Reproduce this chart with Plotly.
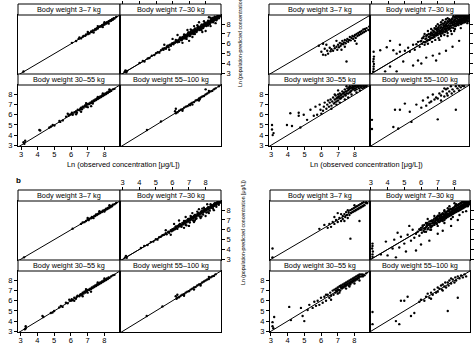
import plotly.graph_objects as go

W, H = 474, 347
FONT = "Liberation Sans, Arial, Helvetica, sans-serif"

strip_labels = ["Body weight 3–7 kg", "Body weight 7–30 kg",
                "Body weight 30–55 kg", "Body weight 55–100 kg"]
tick_values = [3, 4, 5, 6, 7, 8]
identity_line = [2.0, 10.0]
x_title = "Ln (observed concentration [μg/L])"
y_title = "Ln (population-predicted concentration [μg/L])"

# ---------------- panel a, left (tight around identity) ----------------
a_ind_3_7 = [(3.15,3.18),(6.05,6.1),(6.3,6.28),(6.45,6.5),(6.6,6.55),(6.7,6.72),(6.75,6.8),(6.85,6.82),
    (6.9,6.95),(7.0,6.98),(7.05,7.1),(7.1,7.05),(7.2,7.25),(7.25,7.2),(7.3,7.35),(7.4,7.38),(7.45,7.5),
    (7.5,7.45),(7.55,7.6),(7.6,7.55),(7.65,7.7),(7.7,7.72),(7.75,7.8),(7.8,7.75),(7.85,7.9),(7.9,7.88),
    (7.95,8.0),(8.0,7.95),(8.05,8.1),(8.1,8.05),(8.15,8.2),(8.2,8.15),(8.25,8.3),(8.3,8.28),(8.35,8.4),
    (8.4,8.35),(8.45,8.5),(8.5,8.45),(8.55,8.6),(8.6,8.58),(8.7,8.72),(7.35,7.15),(7.6,7.8),(8.0,8.2),
    (8.25,8.05),(6.5,6.65),(7.0,7.2),(7.9,7.7)]
a_ind_7_30 = [(3.1,3.15),(3.15,3.3),(3.2,3.1),(3.25,3.25),(4.0,4.05),(4.2,4.25),(4.3,4.2),(4.5,4.5),
    (4.6,4.55),(4.75,4.8),(4.9,4.85),(5.0,5.05),(5.1,5.15),(5.2,5.1),(5.3,5.35),(5.4,5.5),(5.45,5.4),
    (5.5,5.55),(5.6,5.5),(5.65,5.7),(5.7,5.8),(5.75,5.65),(5.8,5.85),(5.85,5.9),(5.9,5.8),(5.95,6.0),
    (6.0,6.5),(6.0,6.05),(6.05,5.95),(6.1,6.15),(6.15,6.1),(6.2,6.3),(6.25,6.2),(6.3,6.35),(6.35,6.3),
    (6.4,6.45),(6.4,6.2),(6.45,6.55),(6.5,6.4),(6.5,6.6),(6.55,6.5),(6.6,6.7),(6.6,6.5),(6.65,6.6),
    (6.7,6.8),(6.7,6.55),(6.75,6.7),(6.8,6.9),(6.8,6.65),(6.85,6.8),(6.9,7.0),(6.9,6.75),(6.95,6.9),
    (7.0,7.15),(7.0,6.3),(7.0,6.9),(7.05,7.0),(7.1,7.2),(7.1,6.95),(7.15,7.1),(7.2,7.35),(7.2,7.1),
    (7.25,7.2),(7.3,7.4),(7.3,7.15),(7.35,7.3),(7.4,7.5),(7.4,7.25),(7.45,7.4),(7.5,7.65),(7.5,7.35),
    (7.55,7.5),(7.6,7.7),(7.6,7.45),(7.65,7.6),(7.7,7.8),(7.7,7.55),(7.75,7.7),(7.8,7.95),(7.8,7.6),
    (7.85,7.8),(7.9,8.0),(7.9,7.75),(7.95,7.9),(8.0,8.1),(8.0,7.3),(8.0,7.85),(8.05,8.0),(8.1,8.2),
    (8.1,7.95),(8.15,8.1),(8.2,8.3),(8.2,8.05),(8.25,8.2),(8.3,8.4),(8.3,8.15),(8.35,8.3),(8.4,8.5),
    (8.4,8.25),(8.45,8.4),(8.5,8.6),(8.5,8.35),(8.55,8.5),(8.6,8.7),(8.6,8.45),(8.65,8.6),(8.7,8.8),
    (8.7,8.55),(8.75,8.7),(8.8,8.85),(8.85,8.75),(6.3,6.9),(6.9,7.4),(7.3,7.8),(7.6,8.2),(8.2,8.7),
    (6.6,6.1),(7.2,6.7),(7.8,7.2),(8.3,7.8),(8.6,8.1),(5.5,5.9),(5.8,5.4),
    (6.2,6.4),(6.3,6.15),(6.45,6.65),(6.55,6.35),(6.7,6.95),(6.8,6.55),(6.95,7.15),(7.05,6.8),
    (7.15,7.35),(7.25,7.0),(7.35,7.55),(7.45,7.2),(7.55,7.75),(7.65,7.4),(7.75,7.95),(7.85,7.6),
    (7.95,8.15),(8.05,7.8),(8.15,8.35),(8.25,8.0),(8.35,8.55),(8.45,8.2),(8.55,8.75),(8.65,8.4),
    (8.75,8.85),(8.8,8.6),(7.1,7.45),(7.5,7.9),(7.9,8.3),(8.3,8.65),(6.85,6.5),(7.35,7.0),(7.75,7.4),
    (8.15,7.85),(8.45,8.65),(8.9,8.85)]
a_ind_30_55 = [(3.15,3.3),(3.2,3.15),(3.25,3.45),(4.1,4.5),(4.15,4.45),(4.7,4.75),(4.8,4.85),(4.9,5.0),
    (5.0,4.95),(5.3,5.4),(5.35,5.3),(5.5,5.45),(5.7,5.8),(5.8,6.1),(5.85,5.9),(5.9,6.0),(6.0,6.05),
    (6.05,6.2),(6.1,6.0),(6.2,6.25),(6.3,6.35),(6.35,6.2),(6.4,6.5),(6.5,6.45),(6.55,6.6),(6.6,6.7),
    (6.65,6.55),(6.7,6.8),(6.75,6.7),(6.8,6.85),(6.85,6.95),(6.9,6.8),(6.95,7.05),(7.0,7.0),(7.0,6.75),
    (7.05,7.1),(7.1,7.05),(7.15,7.2),(7.2,7.15),(7.25,7.3),(7.3,7.25),(7.35,7.4),(7.4,7.35),(7.45,7.5),
    (7.5,7.45),(7.55,7.6),(7.6,7.55),(7.65,7.7),(7.7,7.65),(7.75,7.8),(7.8,7.75),(7.85,7.9),(7.9,7.85),
    (7.95,8.0),(8.0,7.95),(8.05,8.1),(8.1,8.05),(8.15,8.2),(8.2,8.15),(8.25,8.3),(8.3,8.25),(8.35,8.4),
    (8.4,8.35),(8.5,8.5),(8.6,8.55),(6.3,6.05),(6.6,6.3),(7.2,6.85),(7.6,7.75),(7.9,8.1),(8.3,8.5),
    (6.9,7.15),(7.3,7.1)]
a_ind_55_100 = [(4.45,4.5),(5.3,5.35),(6.15,6.35),(6.2,6.15),(6.3,6.25),(6.4,6.4),(6.5,6.5),(6.6,6.55),
    (6.7,6.7),(6.8,6.8),(6.9,6.85),(7.0,7.0),(7.05,6.95),(7.1,7.1),(7.2,7.2),(7.3,7.25),(7.4,7.4),
    (7.5,7.45),(7.6,7.6),(7.65,7.55),(7.7,7.7),(7.8,7.8),(7.9,7.85),(8.0,8.0),(8.0,8.5),(8.1,8.1),
    (8.2,8.2),(8.3,8.3),(8.4,8.35),(8.5,8.5),(8.6,8.6),(6.2,6.6),(6.6,6.4),(7.2,7.0),(7.6,7.4),
    (8.2,8.35),(8.8,8.8)]

# ---------------- panel a, right (population predictions) ----------------
a_pop_3_7 = [(5.85,5.8),(6.0,5.2),(6.1,4.9),(6.2,5.5),(6.25,4.85),(6.35,5.3),(6.4,5.0),(6.5,5.6),
    (6.55,5.25),(6.6,5.45),(6.7,5.3),(6.75,5.8),(6.8,5.55),(6.9,5.7),(6.95,5.4),(7.0,5.9),(7.05,5.65),
    (7.1,6.1),(7.15,5.8),(7.2,6.0),(7.25,6.3),(7.3,5.95),(7.35,6.15),(7.4,6.4),(7.45,6.05),(7.5,6.3),
    (7.5,4.2),(7.55,6.5),(7.6,6.2),(7.65,6.4),(7.7,6.7),(7.75,6.35),(7.8,6.6),(7.85,6.8),(7.9,6.5),
    (7.95,6.75),(8.0,6.9),(8.05,6.6),(8.1,7.0),(8.15,6.8),(8.2,7.1),(8.25,6.9),(8.3,7.2),(8.35,7.0),
    (8.4,7.3),(8.45,7.1),(8.5,7.45),(8.55,7.2),(8.6,7.5),(8.65,7.3),(8.7,7.6),(8.8,7.4),(8.85,7.75),
    (6.3,5.9),(6.9,6.3),(7.4,5.7),(8.0,6.3),(8.1,6.0),(7.2,5.4),(6.1,6.0)]
a_pop_7_30 = [(3.08,3.2),(3.1,3.45),(3.1,3.7),(3.12,3.95),(3.08,4.2),(3.1,4.45),(3.12,4.7),(3.1,5.2),
    (3.5,5.35),(3.9,5.65),(4.3,5.35),(4.5,5.0),(4.7,5.2),(3.8,3.2),(4.1,3.7),(4.5,3.2),(4.9,4.2),
    (5.5,3.8),(5.8,4.3),(6.0,4.0),(6.3,4.6),(6.7,4.8),(6.9,4.3),(7.1,5.0),(7.5,5.3),(7.9,5.7),(8.3,6.3),
    (4.7,5.9),(4.1,6.3),(5.0,5.3),(5.2,5.6),(5.3,5.2),(5.5,5.9),(5.6,5.4),(5.8,6.2),(5.9,5.7),
    (6.0,6.3),(6.05,6.0),(6.1,6.6),(6.15,6.2),(6.2,5.9),(6.25,6.5),(6.3,6.8),(6.35,6.3),(6.4,6.0),
    (6.45,6.7),(6.5,6.4),(6.55,7.0),(6.6,6.6),(6.65,6.2),(6.7,6.9),(6.75,7.2),(6.8,6.7),(6.85,6.4),
    (6.9,7.1),(6.95,7.4),(7.0,6.9),(7.0,7.6),(7.05,6.6),(7.1,7.3),(7.15,7.0),(7.2,7.7),(7.2,6.8),
    (7.25,7.4),(7.3,7.1),(7.35,7.9),(7.4,7.5),(7.4,6.9),(7.45,7.2),(7.5,7.8),(7.5,7.4),(7.55,8.1),
    (7.6,7.6),(7.6,7.1),(7.65,7.9),(7.7,8.3),(7.7,7.5),(7.75,7.8),(7.8,8.1),(7.8,7.3),(7.85,8.5),
    (7.9,7.9),(7.9,8.2),(7.95,7.6),(8.0,8.4),(8.0,8.0),(8.05,8.7),(8.1,7.8),(8.1,8.3),(8.15,8.6),
    (8.2,8.0),(8.2,8.8),(8.25,8.4),(8.3,8.1),(8.3,8.7),(8.35,8.5),(8.4,8.2),(8.4,8.85),(8.45,8.6),
    (8.5,8.3),(8.5,8.8),(8.55,8.6),(8.6,8.4),(8.6,8.85),(8.65,8.7),(8.7,8.5),(8.75,8.8),(8.8,8.6),
    (8.85,8.75),(8.9,8.8),(6.4,7.3),(6.8,7.6),(7.0,8.0),(7.3,8.4),(7.6,8.6),(6.2,7.0),(6.6,7.5),
    (7.1,6.4),(7.6,6.8),(8.0,7.3),(8.4,7.6),(8.8,8.1),(7.45,7.9),(7.75,8.4),(7.95,8.8),(8.15,8.85),
    (8.05,7.5),(8.25,7.9),(8.45,8.1),(8.65,8.2),(8.75,8.4),(8.85,8.3),(7.2,8.2),(6.9,7.8),(7.5,8.5),
    (7.85,7.0),
    (6.3,6.55),(6.35,6.9),(6.4,6.35),(6.45,7.0),(6.5,6.75),(6.55,6.5),(6.6,7.15),(6.6,6.85),
    (6.65,7.05),(6.7,6.6),(6.7,7.35),(6.75,6.95),(6.8,7.25),(6.8,6.9),(6.85,7.5),(6.85,7.05),
    (6.9,6.85),(6.9,7.55),(6.95,7.15),(7.0,7.25),(7.0,7.05),(7.05,7.7),(7.05,7.45),(7.1,7.1),
    (7.1,7.85),(7.15,7.35),(7.15,7.6),(7.2,7.25),(7.2,7.95),(7.25,7.65),(7.25,7.05),(7.3,7.5),
    (7.3,8.05),(7.35,7.25),(7.35,7.7),(7.4,8.1),(7.4,7.75),(7.45,7.55),(7.45,8.25),(7.5,7.95),
    (7.5,7.6),(7.55,7.3),(7.55,7.85),(7.6,8.3),(7.6,7.8),(7.65,7.45),(7.65,8.15),(7.7,7.7),
    (7.7,8.5),(7.75,8.05),(7.75,7.55),(7.8,8.35),(7.8,7.85),(7.85,8.2),(7.85,7.65),(7.9,8.6),
    (7.9,8.05),(7.95,8.35),(7.95,7.85),(8.0,8.75),(8.0,8.2),(8.05,7.8),(8.05,8.5),(8.1,8.05),
    (8.1,8.8),(8.15,8.3),(8.15,7.95),(8.2,8.55),(8.2,8.2),(8.25,8.75),(8.25,8.05),(8.3,8.45),
    (8.3,8.85),(8.35,8.25),(8.35,8.7),(8.4,8.45),(8.4,8.0),(8.45,8.8),(8.45,8.35),(8.5,8.55),
    (8.5,8.1),(8.55,8.85),(8.55,8.4),(8.6,8.65),(8.6,8.2),(8.65,8.85),(8.65,8.45),(8.7,8.7),
    (8.7,8.25),(8.75,8.55),(8.75,8.85),(8.8,8.75),(8.8,8.35),(8.85,8.55),(8.9,8.7),(6.05,6.55),
    (6.15,6.75),(6.25,6.15),(5.95,6.25),(5.7,5.95)]
a_pop_30_55 = [(3.06,5.0),(3.06,4.55),(3.15,4.2),(3.1,4.0),(3.95,5.0),(4.15,6.15),(4.25,4.9),(4.65,6.2),
    (4.65,5.9),(4.75,4.75),(4.95,6.0),(5.15,5.5),(5.35,6.5),(5.55,5.9),(5.65,6.8),(5.75,6.0),(5.95,6.5),
    (5.9,7.0),(6.1,6.4),(6.15,6.8),(6.2,7.2),(6.3,6.6),(6.35,7.0),(6.4,7.4),(6.45,6.8),(6.5,7.2),
    (6.55,7.5),(6.6,6.9),(6.65,7.3),(6.7,7.7),(6.75,7.1),(6.8,7.5),(6.85,7.9),(6.9,7.3),(6.95,7.7),
    (7.0,8.0),(7.0,7.4),(7.05,7.8),(7.1,8.1),(7.15,7.6),(7.2,8.0),(7.25,8.3),(7.3,7.8),(7.35,8.2),
    (7.4,8.5),(7.45,7.9),(7.5,8.3),(7.55,8.6),(7.6,8.1),(7.65,8.5),(7.7,8.8),(7.75,8.3),(7.8,8.7),
    (7.85,8.85),(7.9,8.5),(7.95,8.8),(8.0,8.6),(8.05,8.85),(8.1,8.7),(8.15,8.85),(8.2,8.75),(8.3,8.85),
    (8.4,8.8),(8.5,8.85),(8.6,8.8),(8.7,8.85),(6.6,6.6),(7.1,7.2),(7.6,7.7),(8.1,8.2),(6.9,7.0),
    (7.4,7.5),(7.8,8.0),(8.3,8.4),(6.0,6.1),(7.0,8.4),(7.5,8.8),(6.8,8.0),
    (7.0,7.7),(7.1,7.6),(7.2,7.7),(7.3,8.1),(7.4,8.0),(7.5,8.1),(7.6,8.4),(7.7,8.2),(7.7,8.6),
    (7.8,8.4),(7.9,8.7),(8.0,8.4),(8.0,8.8),(8.1,8.5),(8.2,8.85),(8.25,8.6),(8.35,8.7),(8.45,8.6),
    (8.55,8.7),(8.65,8.8),(6.8,7.2),(6.9,7.6),(7.15,7.9),(7.45,8.3),(7.65,8.7),(7.85,8.6)]
a_pop_55_100 = [(3.0,5.5),(3.0,4.6),(4.3,4.8),(4.6,4.65),(4.4,6.5),(4.7,6.5),(5.0,7.1),(5.3,6.3),
    (5.4,5.3),(5.7,7.0),(6.0,6.7),(6.1,7.4),(6.3,6.9),(6.4,7.7),(6.5,7.2),(6.7,8.0),(6.8,7.5),(6.9,7.7),
    (7.0,5.55),(7.1,8.1),(7.2,7.9),(7.3,8.3),(7.4,7.8),(7.5,8.5),(7.55,8.1),(7.6,8.6),(7.7,8.3),
    (7.8,8.8),(7.9,8.5),(8.0,8.3),(8.1,6.5),(8.1,8.8),(8.2,8.6),(8.3,8.85),(8.4,8.7),(8.5,8.85),
    (8.6,8.8),(7.2,7.4),(7.6,7.9),(6.6,7.3),(7.0,7.6),(7.4,8.6),(7.85,8.1),(8.3,8.4)]

# ---------------- panel b, left (tight around identity) ----------------
b_ind_3_7 = [(3.2,3.2),(6.1,6.12),(6.6,6.6),(6.7,6.75),(6.8,6.78),(6.9,6.9),(7.0,7.05),(7.05,6.98),
    (7.1,7.12),(7.2,7.18),(7.25,7.3),(7.3,7.25),(7.4,7.42),(7.45,7.4),(7.5,7.55),(7.55,7.5),(7.6,7.62),
    (7.65,7.6),(7.7,7.75),(7.75,7.7),(7.8,7.82),(7.85,7.8),(7.9,7.95),(7.95,7.9),(8.0,8.02),(8.05,8.0),
    (8.1,8.15),(8.15,8.1),(8.2,8.22),(8.25,8.2),(8.3,8.35),(8.35,8.3),(8.4,8.42),(8.45,8.4),(8.5,8.55),
    (8.6,8.6),(8.7,8.72),(7.0,7.2),(7.35,7.2),(7.7,7.9),(8.0,7.85),(8.3,8.5)]
b_ind_7_30 = [(3.15,3.2),(3.2,3.35),(3.25,3.15),(4.1,4.15),(4.3,4.35),(4.5,4.45),(4.7,4.75),(4.85,4.8),
    (5.0,5.05),(5.1,5.0),(5.2,5.25),(5.3,5.3),(5.4,5.45),(5.5,5.5),(5.6,5.65),(5.65,5.55),(5.75,5.8),
    (5.8,5.7),(5.9,5.95),(5.95,5.85),(6.0,6.05),(6.05,5.95),(6.1,6.6),(6.1,6.15),(6.15,6.05),(6.2,6.25),
    (6.25,6.15),(6.3,6.4),(6.35,6.3),(6.4,6.5),(6.45,6.35),(6.5,6.55),(6.55,6.45),(6.6,6.7),(6.65,6.55),
    (6.7,6.8),(6.75,6.65),(6.8,6.9),(6.85,6.75),(6.9,7.0),(6.95,6.85),(7.0,7.1),(7.0,6.4),(7.05,6.95),
    (7.1,7.2),(7.15,7.05),(7.2,7.3),(7.25,7.15),(7.3,7.4),(7.35,7.25),(7.4,7.5),(7.45,7.35),(7.5,7.6),
    (7.55,7.45),(7.6,7.7),(7.65,7.55),(7.7,7.8),(7.75,7.65),(7.8,7.9),(7.85,7.75),(7.9,8.0),(7.95,7.85),
    (8.0,8.1),(8.0,7.4),(8.05,7.95),(8.1,8.2),(8.15,8.05),(8.2,8.3),(8.25,8.15),(8.3,8.4),(8.35,8.25),
    (8.4,8.5),(8.45,8.35),(8.5,8.6),(8.55,8.45),(8.6,8.7),(8.65,8.55),(8.7,8.8),(8.75,8.65),(8.8,8.85),
    (8.85,8.75),(6.4,6.95),(6.8,7.3),(7.2,7.7),(7.6,8.1),(8.1,8.6),(6.7,6.2),(7.3,6.8),(7.7,7.2),
    (8.2,7.7),(8.5,8.0),(5.6,5.95),(5.9,5.5),(7.4,7.1),(7.8,8.15),
    (6.2,6.35),(6.3,6.1),(6.45,6.6),(6.55,6.3),(6.7,6.9),(6.8,6.5),(6.95,7.1),(7.05,6.75),(7.15,7.3),
    (7.25,6.95),(7.35,7.5),(7.45,7.15),(7.55,7.7),(7.65,7.35),(7.75,7.9),(7.85,7.55),(7.95,8.1),
    (8.05,7.75),(8.15,8.3),(8.25,7.95),(8.35,8.5),(8.45,8.15),(8.55,8.7),(8.65,8.35),(8.75,8.85),
    (8.8,8.55),(7.1,7.4),(7.5,7.85),(7.9,8.25),(8.3,8.6),(6.85,6.45),(7.35,6.95),(7.75,7.35),
    (8.15,7.8),(8.9,8.8)]
b_ind_30_55 = [(3.3,3.5),(3.3,3.3),(3.25,3.2),(4.3,4.5),(4.35,4.4),(4.8,4.8),(4.9,4.85),(5.0,5.0),
    (5.3,5.35),(5.4,5.5),(5.5,5.4),(5.7,5.8),(5.8,5.75),(5.9,6.1),(6.0,6.0),(6.05,6.15),(6.1,6.05),
    (6.2,6.3),(6.3,6.2),(6.35,6.4),(6.4,6.5),(6.5,6.45),(6.55,6.6),(6.6,6.65),(6.65,6.6),(6.7,6.8),
    (6.75,6.7),(6.8,6.9),(6.85,6.8),(6.9,7.0),(6.95,6.9),(7.0,7.05),(7.0,6.8),(7.05,7.1),(7.1,7.05),
    (7.15,7.2),(7.2,7.15),(7.25,7.3),(7.3,7.25),(7.35,7.4),(7.4,7.35),(7.45,7.5),(7.5,7.45),(7.55,7.6),
    (7.6,7.55),(7.65,7.7),(7.7,7.65),(7.75,7.8),(7.8,7.75),(7.85,7.9),(7.9,7.85),(7.95,8.0),(8.0,7.95),
    (8.05,8.1),(8.1,8.05),(8.15,8.2),(8.2,8.15),(8.25,8.3),(8.3,8.25),(8.4,8.4),(8.5,8.5),(8.6,8.55),
    (6.2,6.0),(6.7,6.45),(7.2,6.9),(7.6,7.8),(8.0,8.2),(6.9,7.15)]
b_ind_55_100 = [(4.45,4.5),(5.4,5.45),(6.2,6.45),(6.25,6.2),(6.3,6.3),(6.4,6.35),(6.5,6.5),(6.6,6.6),
    (6.7,6.65),(6.8,6.8),(6.9,6.9),(7.0,6.95),(7.1,7.1),(7.2,7.2),(7.3,7.3),(7.4,7.35),(7.5,7.5),
    (7.6,7.6),(7.7,7.65),(7.8,7.8),(7.9,7.9),(8.0,8.0),(8.1,8.1),(8.2,8.15),(8.3,8.3),(8.4,8.4),
    (8.5,8.45),(8.6,8.6),(6.3,6.6),(6.7,6.5),(7.3,7.1),(7.7,7.5),(8.2,8.35)]

# ---------------- panel b, right (population predictions) ----------------
b_pop_3_7 = [(3.1,4.1),(3.1,3.2),(5.9,6.1),(6.2,6.5),(6.4,6.2),(6.5,6.6),(6.6,6.3),(6.7,6.8),(6.8,6.6),
    (6.9,7.0),(7.0,7.7),(7.0,6.8),(7.1,7.2),(7.2,6.9),(7.3,7.4),(7.3,7.1),(7.4,7.6),(7.45,7.3),
    (7.5,7.8),(7.55,7.5),(7.6,7.2),(7.65,7.8),(7.7,7.5),(7.75,8.0),(7.76,5.1),(7.8,7.7),(7.85,8.1),
    (7.9,7.8),(7.95,8.2),(8.0,7.9),(8.05,8.3),(8.1,8.0),(8.15,8.4),(8.2,8.1),(8.25,8.5),(8.3,6.9),
    (8.3,8.2),(8.35,8.6),(8.4,8.3),(8.45,8.7),(8.5,8.4),(8.55,8.8),(8.6,8.5),(8.7,8.8),(8.75,8.7),
    (6.8,7.3),(7.2,7.6),(7.6,8.0),(8.0,8.5),(7.4,6.9)]
b_pop_7_30 = [(3.1,3.25),(3.1,3.5),(3.12,3.8),(3.08,4.1),(3.1,4.35),(3.1,4.6),(3.6,3.5),(3.9,4.8),
    (4.0,3.4),(4.3,4.1),(4.4,5.0),(4.5,3.2),(4.7,4.2),(4.8,5.3),(5.0,4.6),(5.1,3.8),(5.2,5.5),(5.4,4.9),
    (5.5,6.0),(5.6,5.2),(5.7,3.9),(5.8,5.8),(5.9,5.4),(6.0,6.2),(6.0,4.5),(6.2,5.8),(6.3,6.7),(6.5,4.9),
    (7.0,5.6),(7.3,5.9),(7.8,6.4),(8.2,7.0),(5.3,6.4),(4.6,5.7),
    (6.0,6.0),(6.05,5.7),(6.1,6.3),(6.15,5.9),(6.2,6.5),(6.25,6.1),(6.3,5.8),(6.35,6.4),(6.4,6.7),
    (6.45,6.2),(6.5,6.6),(6.55,6.0),(6.6,6.9),(6.65,6.4),(6.7,6.7),(6.75,7.0),(6.8,6.5),(6.85,6.9),
    (6.9,7.2),(6.95,6.6),(7.0,7.0),(7.0,7.4),(7.05,6.8),(7.1,7.2),(7.15,6.9),(7.2,7.5),(7.2,7.0),
    (7.25,7.3),(7.3,6.9),(7.35,7.6),(7.4,7.3),(7.4,7.0),(7.45,7.5),(7.5,7.8),(7.5,7.2),(7.55,7.6),
    (7.6,7.3),(7.6,7.9),(7.65,7.5),(7.7,8.0),(7.7,7.4),(7.75,7.7),(7.8,8.1),(7.8,7.5),(7.85,7.9),
    (7.9,8.2),(7.9,7.6),(7.95,8.0),(8.0,8.3),(8.0,7.7),(8.05,8.1),(8.1,8.4),(8.1,7.8),(8.15,8.2),
    (8.2,8.5),(8.2,7.9),(8.25,8.3),(8.3,8.6),(8.3,8.0),(8.35,8.4),(8.4,8.7),(8.4,8.1),(8.45,8.5),
    (8.5,8.8),(8.5,8.2),(8.55,8.6),(8.6,8.85),(8.6,8.3),(8.65,8.6),(8.7,8.8),(8.7,8.4),(8.75,8.7),
    (8.8,8.5),(8.85,8.8),(8.9,8.6),(6.4,7.1),(6.8,7.4),(7.1,7.7),(7.4,8.0),(7.7,8.4),(8.0,8.7),
    (6.6,6.0),(7.0,6.4),(7.4,6.7),(7.8,7.1),(8.3,7.5),(8.7,7.9),(7.3,7.7),(7.6,8.2),(8.1,8.6),
    (7.9,7.3),(8.5,7.8),
    (6.3,6.25),(6.35,6.6),(6.4,6.05),(6.45,6.5),(6.5,6.85),(6.55,6.4),(6.6,6.65),(6.6,6.25),
    (6.65,6.95),(6.7,6.45),(6.7,6.9),(6.75,6.75),(6.8,7.15),(6.8,6.6),(6.85,6.7),(6.9,7.05),
    (6.9,6.7),(6.95,7.3),(7.0,6.85),(7.0,7.15),(7.05,7.45),(7.05,7.0),(7.1,6.8),(7.1,7.35),
    (7.15,7.15),(7.15,7.5),(7.2,6.95),(7.2,7.3),(7.25,7.6),(7.25,7.1),(7.3,7.35),(7.3,7.05),
    (7.35,7.55),(7.35,7.2),(7.4,7.85),(7.4,7.45),(7.45,7.15),(7.45,7.7),(7.5,7.55),(7.5,7.35),
    (7.55,7.85),(7.55,7.4),(7.6,7.65),(7.6,7.45),(7.65,8.0),(7.65,7.65),(7.7,7.6),(7.7,7.85),
    (7.75,8.15),(7.75,7.5),(7.8,7.8),(7.8,7.65),(7.85,8.1),(7.85,7.6),(7.9,7.95),(7.9,7.75),
    (7.95,8.25),(7.95,7.7),(8.0,8.05),(8.0,7.85),(8.05,8.45),(8.05,7.8),(8.1,8.15),(8.1,7.95),
    (8.15,8.5),(8.15,7.9),(8.2,8.25),(8.2,8.05),(8.25,8.6),(8.25,7.95),(8.3,8.35),(8.3,8.2),
    (8.35,8.7),(8.35,8.05),(8.4,8.45),(8.4,8.3),(8.45,8.8),(8.45,8.2),(8.5,8.5),(8.5,8.4),
    (8.55,8.85),(8.55,8.3),(8.6,8.6),(8.6,8.45),(8.65,8.4),(8.65,8.8),(8.7,8.65),(8.75,8.5),
    (8.75,8.85),(8.8,8.7),(8.8,8.4),(8.85,8.6),(8.9,8.85),(6.1,6.45),(6.2,6.1),(5.9,6.05),(5.7,5.6)]
b_pop_30_55 = [(3.1,3.5),(3.15,3.3),(3.2,4.4),(3.1,3.9),(4.1,5.4),(4.2,4.1),(4.8,5.3),(4.9,4.5),
    (5.0,4.0),(5.2,5.1),(5.3,5.6),(5.5,5.3),(5.6,5.9),(5.7,5.5),(5.8,6.0),(5.9,5.6),(6.0,6.3),(6.1,5.8),
    (6.2,6.4),(6.3,6.0),(6.4,6.6),(6.5,6.3),(6.55,6.8),(6.6,6.5),(6.7,7.0),(6.75,6.6),(6.8,7.1),
    (6.85,6.8),(6.9,7.2),(6.95,6.9),(7.0,7.3),(7.0,6.7),(7.05,7.1),(7.1,7.4),(7.15,7.0),(7.2,7.5),
    (7.25,7.2),(7.3,7.6),(7.35,7.3),(7.4,7.7),(7.45,7.4),(7.5,7.8),(7.5,7.2),(7.55,7.6),(7.6,7.9),
    (7.65,7.5),(7.7,8.0),(7.75,7.7),(7.8,8.1),(7.85,7.8),(7.9,8.2),(7.95,7.9),(8.0,8.3),(8.05,8.0),
    (8.1,8.4),(8.15,8.1),(8.2,8.5),(8.25,8.2),(8.3,8.6),(8.4,8.4),(8.5,8.6),(8.6,8.5),(8.7,8.7),
    (6.3,6.6),(6.6,6.1),(7.1,6.8),(7.7,7.4),(8.0,7.7),(8.3,8.0),
    (7.0,7.1),(7.1,7.0),(7.2,7.3),(7.3,7.4),(7.4,7.5),(7.5,7.5),(7.6,7.7),(7.7,7.8),(7.8,7.9),
    (7.9,8.0),(8.0,8.1),(8.1,8.2),(8.2,8.3),(8.3,8.4),(8.4,8.6),(8.5,8.4),(6.9,7.0),(7.15,7.45),
    (7.45,7.6),(7.75,7.6),(7.95,8.15),(8.25,8.45)]
b_pop_55_100 = [(3.1,4.9),(3.1,3.7),(4.5,4.0),(4.7,3.7),(4.8,6.0),(5.0,6.0),(5.2,6.4),(5.4,4.5),
    (5.6,4.8),(5.9,5.9),(6.0,6.1),(6.2,6.0),(6.3,6.4),(6.4,6.7),(6.5,6.3),(6.6,6.8),(6.7,6.6),(6.8,7.1),
    (6.9,6.8),(7.0,7.3),(7.0,6.9),(7.1,7.2),(7.2,7.5),(7.25,7.1),(7.3,7.6),(7.4,7.4),(7.45,7.8),
    (7.5,7.3),(7.6,5.0),(7.6,7.8),(7.65,7.5),(7.7,8.0),(7.8,7.7),(7.9,8.1),(8.0,7.8),(8.05,8.3),
    (8.1,8.0),(8.2,6.3),(8.2,8.4),(8.3,8.2),(8.4,8.5),(8.5,8.3),(8.6,8.6),(8.7,8.4),(6.6,6.2),
    (7.3,7.0),(7.8,8.2)]

# ---------------- layout geometry (pixels) ----------------
groups = [
    dict(cols=(18, 120, 221), top=4, xr=(2.82, 8.93), top_labels=False, right_labels=True,
         data=[a_ind_3_7, a_ind_7_30, a_ind_30_55, a_ind_55_100]),
    dict(cols=(269, 370, 469), top=4, xr=(2.88, 8.9), top_labels=False, right_labels=False,
         data=[a_pop_3_7, a_pop_7_30, a_pop_30_55, a_pop_55_100]),
    dict(cols=(18, 120, 221), top=190, xr=(2.84, 8.93), top_labels=True, right_labels=True,
         data=[b_ind_3_7, b_ind_7_30, b_ind_30_55, b_ind_55_100]),
    dict(cols=(270, 370, 470), top=190, xr=(2.95, 8.93), top_labels=True, right_labels=False,
         data=[b_pop_3_7, b_pop_7_30, b_pop_30_55, b_pop_55_100]),
]
YR = (2.93, 8.93)


def fx(p):
    return p / W


def fy(p):
    return 1 - p / H


fig = go.Figure()
layout = dict(width=W, height=H,
              margin=dict(l=0, r=0, t=0, b=0, pad=0, autoexpand=False),
              paper_bgcolor="white", plot_bgcolor="white", showlegend=False,
              font=dict(family=FONT, color="black", size=7.5))
shapes, annotations = [], []
tickfont = dict(family=FONT, size=7.5, color="black")
TL = 3

n = 0
extra = 16
for g in groups:
    c0, c1, c2 = g["cols"]
    cols = [(c0, c1), (c1, c2)]
    t = g["top"]
    rows = [(t, t + 11, t + 70), (t + 70, t + 81, t + 142)]
    for k, pts in enumerate(g["data"]):
        r, c = divmod(k, 2)
        n += 1
        xn = "x" if n == 1 else f"x{n}"
        yn = "y" if n == 1 else f"y{n}"
        xk = "xaxis" if n == 1 else f"xaxis{n}"
        yk = "yaxis" if n == 1 else f"yaxis{n}"
        px0, px1 = cols[c]
        s0, s1, p1 = rows[r]
        xa = dict(domain=[fx(px0), fx(px1)], range=list(g["xr"]), anchor=yn,
                  showgrid=False, zeroline=False, showline=True, mirror=True,
                  linecolor="black", linewidth=1, tickvals=tick_values,
                  ticks="", showticklabels=False, tickfont=tickfont,
                  ticklen=TL, tickcolor="black", tickwidth=1, automargin=False)
        ya = dict(domain=[fy(p1), fy(s1)], range=list(YR), anchor=xn,
                  showgrid=False, zeroline=False, showline=True, mirror=True,
                  linecolor="black", linewidth=1, tickvals=tick_values,
                  ticks="", showticklabels=False, tickfont=tickfont,
                  ticklen=TL, tickcolor="black", tickwidth=1, automargin=False)
        if k == 1:
            ya.update(side="right", ticks="outside",
                      showticklabels=g["right_labels"])
            # top axis sits above the strip, as in lattice
            extra += 1
            tn = f"x{extra}"
            layout[f"xaxis{extra}"] = dict(
                overlaying=xn, anchor="free", position=fy(s0), side="top",
                domain=[fx(px0), fx(px1)], range=list(g["xr"]),
                showgrid=False, zeroline=False, showline=False,
                tickvals=tick_values, ticks="outside", ticklen=TL,
                tickcolor="black", tickwidth=1,
                showticklabels=g["top_labels"], ticklabelstandoff=-1,
                tickfont=tickfont, automargin=False)
            fig.add_trace(go.Scatter(x=identity_line, y=identity_line, mode="lines",
                                     line=dict(color="black", width=1),
                                     xaxis=tn, yaxis=yn, hoverinfo="skip"))
        if k == 2:
            xa.update(side="bottom", ticks="outside", showticklabels=True,
                      ticklabelstandoff=-2)
            ya.update(side="left", ticks="outside", showticklabels=True)
        layout[xk] = xa
        layout[yk] = ya
        fig.add_trace(go.Scatter(x=identity_line, y=identity_line, mode="lines",
                                 line=dict(color="black", width=1),
                                 xaxis=xn, yaxis=yn, hoverinfo="skip"))
        fig.add_trace(go.Scatter(x=[p[0] for p in pts], y=[p[1] for p in pts],
                                 mode="markers",
                                 marker=dict(color="black", size=2.4,
                                             line=dict(width=0)),
                                 xaxis=xn, yaxis=yn))
        shapes.append(dict(type="rect", xref="paper", yref="paper",
                           x0=fx(px0), x1=fx(px1), y0=fy(s1), y1=fy(s0),
                           line=dict(color="black", width=1), fillcolor="white"))
        annotations.append(dict(text=strip_labels[k], xref="paper", yref="paper",
                                x=fx((px0 + px1) / 2), y=fy((s0 + s1) / 2),
                                showarrow=False, xanchor="center", yanchor="middle",
                                font=dict(family=FONT, size=7.3, color="black")))

# axis titles
for cx in (123, 366):
    annotations.append(dict(text=x_title, xref="paper", yref="paper",
                            x=fx(cx), y=fy(164), showarrow=False,
                            xanchor="center", yanchor="middle",
                            font=dict(family=FONT, size=7.4, color="black")))
for cx, cy in ((240, 35), (243, 232)):
    annotations.append(dict(text=y_title, xref="paper", yref="paper",
                            x=fx(cx), y=fy(cy), showarrow=False, textangle=-90,
                            xanchor="center", yanchor="middle",
                            font=dict(family=FONT, size=5.2, color="black")))
annotations.append(dict(text="<b>b</b>", xref="paper", yref="paper",
                        x=fx(18), y=fy(180), showarrow=False,
                        xanchor="center", yanchor="middle",
                        font=dict(family=FONT, size=8, color="black")))

layout["shapes"] = shapes
layout["annotations"] = annotations
fig.update_layout(**layout)
fig.write_html("out.html")
